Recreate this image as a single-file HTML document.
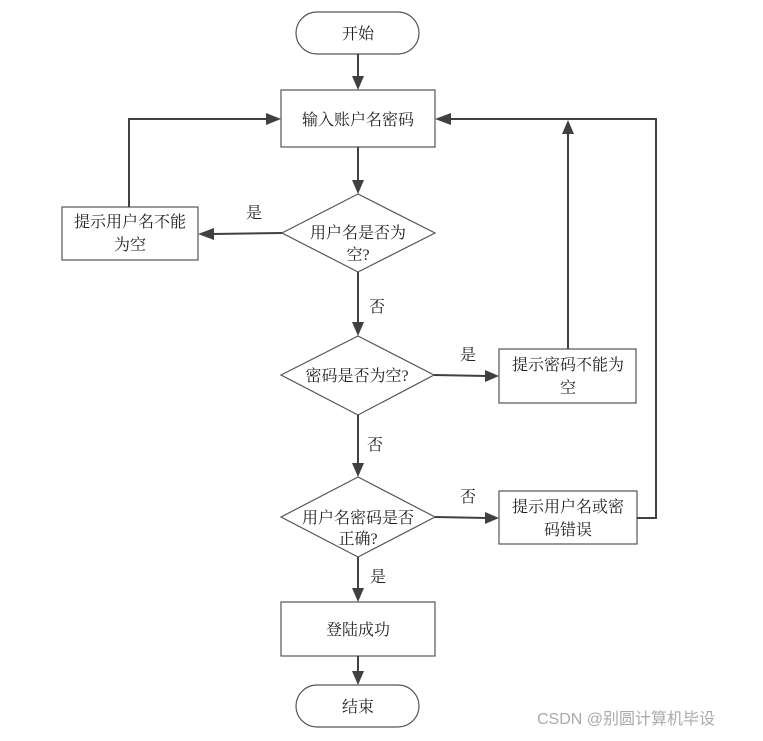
<!DOCTYPE html>
<html><head><meta charset="utf-8"><style>
html,body{margin:0;padding:0;background:#fff}
text{font-family:"Liberation Serif","Noto Serif CJK SC","Noto Sans CJK SC",serif;font-size:16px;fill:#222}
</style></head><body>
<svg width="763" height="736" viewBox="0 0 763 736" xmlns="http://www.w3.org/2000/svg">
<defs><marker id="a" viewBox="0 0 10 10" refX="10" refY="5" markerWidth="5" markerHeight="5" orient="auto" markerUnits="userSpaceOnUse" style="overflow:visible"><path d="M0,0 L10,5 L0,10 L3,5 z" fill="#404040" transform="scale(1.4) translate(-3,-1.4)"/></marker></defs>
<g fill="none" stroke="#555" stroke-width="1.2">
<rect x="296" y="12" width="123" height="42" rx="21"/>
<rect x="281" y="90" width="154" height="57"/>
<polygon points="358,194 435,233 358,272 282,233"/>
<rect x="62" y="207" width="136" height="53"/>
<polygon points="358,336 434,375 358,415 281,375"/>
<rect x="499" y="349" width="137" height="54"/>
<polygon points="358,477 435,517 358,557 281,517"/>
<rect x="499" y="491" width="138" height="53"/>
<rect x="281" y="602" width="154" height="54"/>
<rect x="296" y="685" width="123" height="42" rx="21"/>
</g>
<g fill="none" stroke="#404040" stroke-width="2">
<line x1="358" y1="54" x2="358" y2="78"/>
<line x1="358" y1="147" x2="358" y2="182"/>
<line x1="282" y1="233" x2="212" y2="234"/>
<polyline points="129,207 129,119 268,119"/>
<line x1="358" y1="272" x2="358" y2="324"/>
<line x1="434" y1="375" x2="487" y2="376"/>
<line x1="568" y1="349" x2="568" y2="132"/>
<line x1="358" y1="415" x2="358" y2="465"/>
<line x1="435" y1="517" x2="487" y2="518"/>
<polyline points="637,518 656,518 656,119 449,119"/>
<line x1="358" y1="557" x2="358" y2="590"/>
<line x1="358" y1="656" x2="358" y2="673"/>
</g>
<g fill="#404040">
<polygon points="352,76 364,76 358,90"/>
<polygon points="352,180 364,180 358,194"/>
<polygon points="214,228 214,240 198,234"/>
<polygon points="266,113 266,125 281,119"/>
<polygon points="352,322 364,322 358,336"/>
<polygon points="485,370 485,382 499,376"/>
<polygon points="562,134 574,134 568,120"/>
<polygon points="352,463 364,463 358,477"/>
<polygon points="485,512 485,524 499,518"/>
<polygon points="451,113 451,125 435,119"/>
<polygon points="352,588 364,588 358,602"/>
<polygon points="352,671 364,671 358,685"/>
</g>
<g text-anchor="middle">
<text x="358" y="39">开始</text>
<text x="358" y="125">输入账户名密码</text>
<text x="358" y="238">用户名是否为</text>
<text x="358" y="260">空?</text>
<text x="130" y="227">提示用户名不能</text>
<text x="130" y="250">为空</text>
<text x="357" y="381">密码是否为空?</text>
<text x="568" y="370">提示密码不能为</text>
<text x="568" y="393">空</text>
<text x="358" y="523">用户名密码是否</text>
<text x="358" y="544">正确?</text>
<text x="568" y="512">提示用户名或密</text>
<text x="568" y="535">码错误</text>
<text x="358" y="635">登陆成功</text>
<text x="358" y="712">结束</text>
<text x="254" y="218">是</text>
<text x="377" y="312">否</text>
<text x="468" y="360">是</text>
<text x="375" y="450">否</text>
<text x="468" y="502">否</text>
<text x="378" y="582">是</text>
</g>
<text x="537" y="724" style="font-family:'Liberation Sans','Noto Sans CJK SC',sans-serif;font-size:16px;fill:#aaa">CSDN @别圆计算机毕设</text>
</svg>
</body></html>
